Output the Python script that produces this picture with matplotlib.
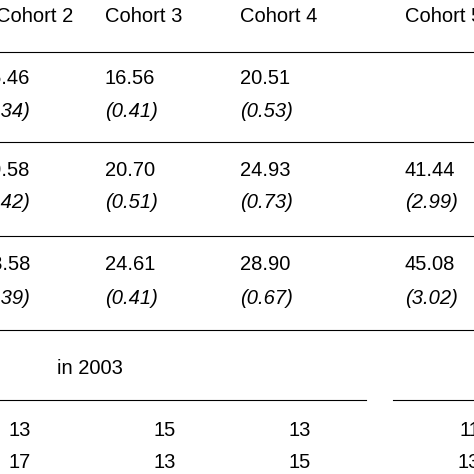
import matplotlib.pyplot as plt

plt.rcParams['font.family'] = ['Liberation Sans', 'DejaVu Sans']

# Column headers and table values (visible part of the table)
headers = ["Cohort 2", "Cohort 3", "Cohort 4", "Cohort 5"]
means = [["15.46", "16.56", "20.51", ""],
         ["19.58", "20.70", "24.93", "41.44"],
         ["23.58", "24.61", "28.90", "45.08"]]
ses = [["(0.34)", "(0.41)", "(0.53)", ""],
       ["(0.42)", "(0.51)", "(0.73)", "(2.99)"],
       ["(0.39)", "(0.41)", "(0.67)", "(3.02)"]]
counts = [["13", "15", "13", "11"],
          ["17", "13", "15", "13"]]

W = H = 474
fig = plt.figure(figsize=(4.74, 4.74), dpi=100)
ax = fig.add_axes([0, 0, 1, 1])
ax.set_xlim(0, W)
ax.set_ylim(H, 0)
ax.axis('off')

fs = 14.5
col_left = [None, 105, 240, 405]
count_right = [31, 176, 311, 480]

ax.text(73, 16, headers[0], fontsize=fs, va='center', ha='right')
for x, h in zip(col_left[1:], headers[1:]):
    ax.text(x, 16, h, fontsize=fs, va='center', ha='left')

row_y = [78, 170, 265]
for r, y in enumerate(row_y):
    ax.text(30, y, means[r][0], fontsize=fs, va='center', ha='right')
    ax.text(30, y + 33, ses[r][0], fontsize=fs, va='center', ha='right', style='italic')
    for c in range(1, 4):
        ax.text(col_left[c], y, means[r][c], fontsize=fs, va='center', ha='left')
        ax.text(col_left[c], y + 33, ses[r][c], fontsize=fs, va='center',
                ha='left', style='italic')

for y in [52, 142, 236, 330]:
    ax.plot([0, W], [y, y], color='black', lw=0.8)

ax.text(57, 368, "in 2003", fontsize=fs, va='center', ha='left')
ax.plot([0, 366], [400, 400], color='black', lw=0.8)
ax.plot([393, W], [400, 400], color='black', lw=0.8)

for r, y in enumerate([430, 462]):
    for c in range(4):
        ax.text(count_right[c], y, counts[r][c], fontsize=fs, va='center', ha='right')

fig.savefig("out.png", dpi=100, facecolor='white')
